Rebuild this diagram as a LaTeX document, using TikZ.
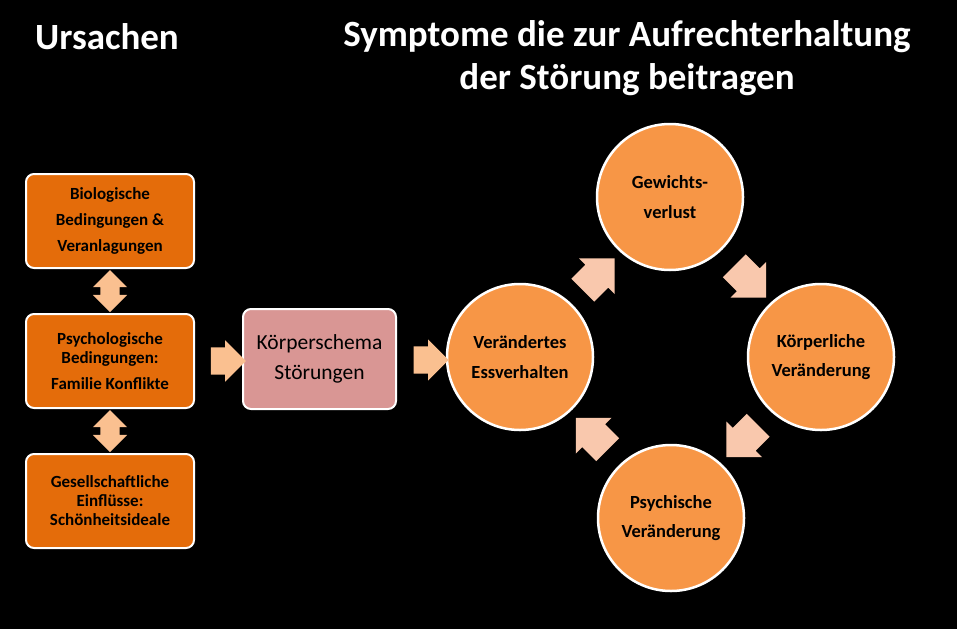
\documentclass[tikz,border=0pt]{standalone}
\usepackage{fontspec}
\setmainfont{Carlito}
\usetikzlibrary{shapes.arrows,calc}
\definecolor{causeorange}{HTML}{E46C0A}
\definecolor{pinkbox}{HTML}{D99694}
\definecolor{circorange}{HTML}{F79646}
\definecolor{arrowpeach}{HTML}{FAC090}
\definecolor{arrowpink}{HTML}{F9C8AD}
\tikzset{
  cause/.style={draw=white, line width=2pt, fill=causeorange, rounded corners=8pt,
    minimum width=168pt, minimum height=94pt, align=center, inner sep=0pt,
    font=\bfseries\fontsize{17}{19}\selectfont},
  schema/.style={draw=white, line width=2pt, fill=pinkbox, rounded corners=8pt,
    minimum width=153pt, minimum height=100pt, align=center, inner sep=0pt,
    font=\fontsize{21.5}{30}\selectfont},
  symp/.style={circle, draw=white, line width=2.5pt, fill=circorange, minimum size=146pt,
    align=center, inner sep=0pt, font=\bfseries\fontsize{18.5}{29.5}\selectfont},
  title/.style={text=white, align=center, font=\bfseries\fontsize{37}{43}\selectfont},
  dblarrow/.style={double arrow, fill=arrowpeach, draw=none, minimum height=42pt,
    inner xsep=0pt, inner ysep=9.5pt, double arrow head extend=7.5pt, rotate=90},
  rarrow/.style={single arrow, fill=arrowpeach, draw=none, minimum height=35pt,
    inner xsep=0pt, inner ysep=13.5pt, single arrow head extend=7pt},
  cycarrow/.style={single arrow, fill=arrowpink, draw=none, minimum height=45pt,
    inner xsep=0pt, inner ysep=16pt, single arrow head extend=9pt},
}
\begin{document}
\begin{tikzpicture}[x=1pt,y=-1pt]
\fill[black] (0,0) rectangle (957,629);
\useasboundingbox (0,0) rectangle (957,629);

\node[title] (tU) at (107,37) {Ursachen};
\node[title] (tS) at (627,58) {Symptome die zur Aufrechterhaltung\\der Störung beitragen};

\node[cause] (b1) at (110,221) {Biologische\\[7pt]Bedingungen \&\\[7pt]Veranlagungen};
\node[cause] (b2) at (110,361) {Psychologische\\Bedingungen:\\[7pt]Familie Konflikte};
\node[cause] (b3) at (110,501) {Gesellschaftliche\\Einflüsse:\\Schönheitsideale};

\node[schema] (ks) at (319.5,359) {Körperschema\\Störungen};

\node[symp] (ess) at (520,357) {Verändertes\\Essverhalten};
\node[symp] (gew) at (670,197) {Gewichts-\\verlust};
\node[symp] (kv) at (821,357) {Körperliche\\Veränderung};
\node[symp] (pv) at (671,518) {Psychische\\Veränderung};

\node[dblarrow] (d1) at ($(b1.south)!0.5!(b2.north)$) {};
\node[dblarrow] (d2) at ($(b2.south)!0.5!(b3.north)$) {};

\node[rarrow] (r1) at ($(b2.east)!0.5!(ks.west)+(3,1)$) {};
\node[rarrow] (r2) at ($(ks.east)!0.5!(ess.west)+(3,2)$) {};

\node[cycarrow, rotate=45] (c1) at ($(ess)!0.5!(gew)+(-2,3)$) {};
\node[cycarrow, rotate=-45] (c2) at ($(gew)!0.5!(kv)+(-1,-1)$) {};
\node[cycarrow, rotate=-135] (c3) at ($(kv)!0.5!(pv)+(2,-2)$) {};
\node[cycarrow, rotate=135] (c4) at ($(pv)!0.5!(ess)+(2,2)$) {};
\end{tikzpicture}
\end{document}
